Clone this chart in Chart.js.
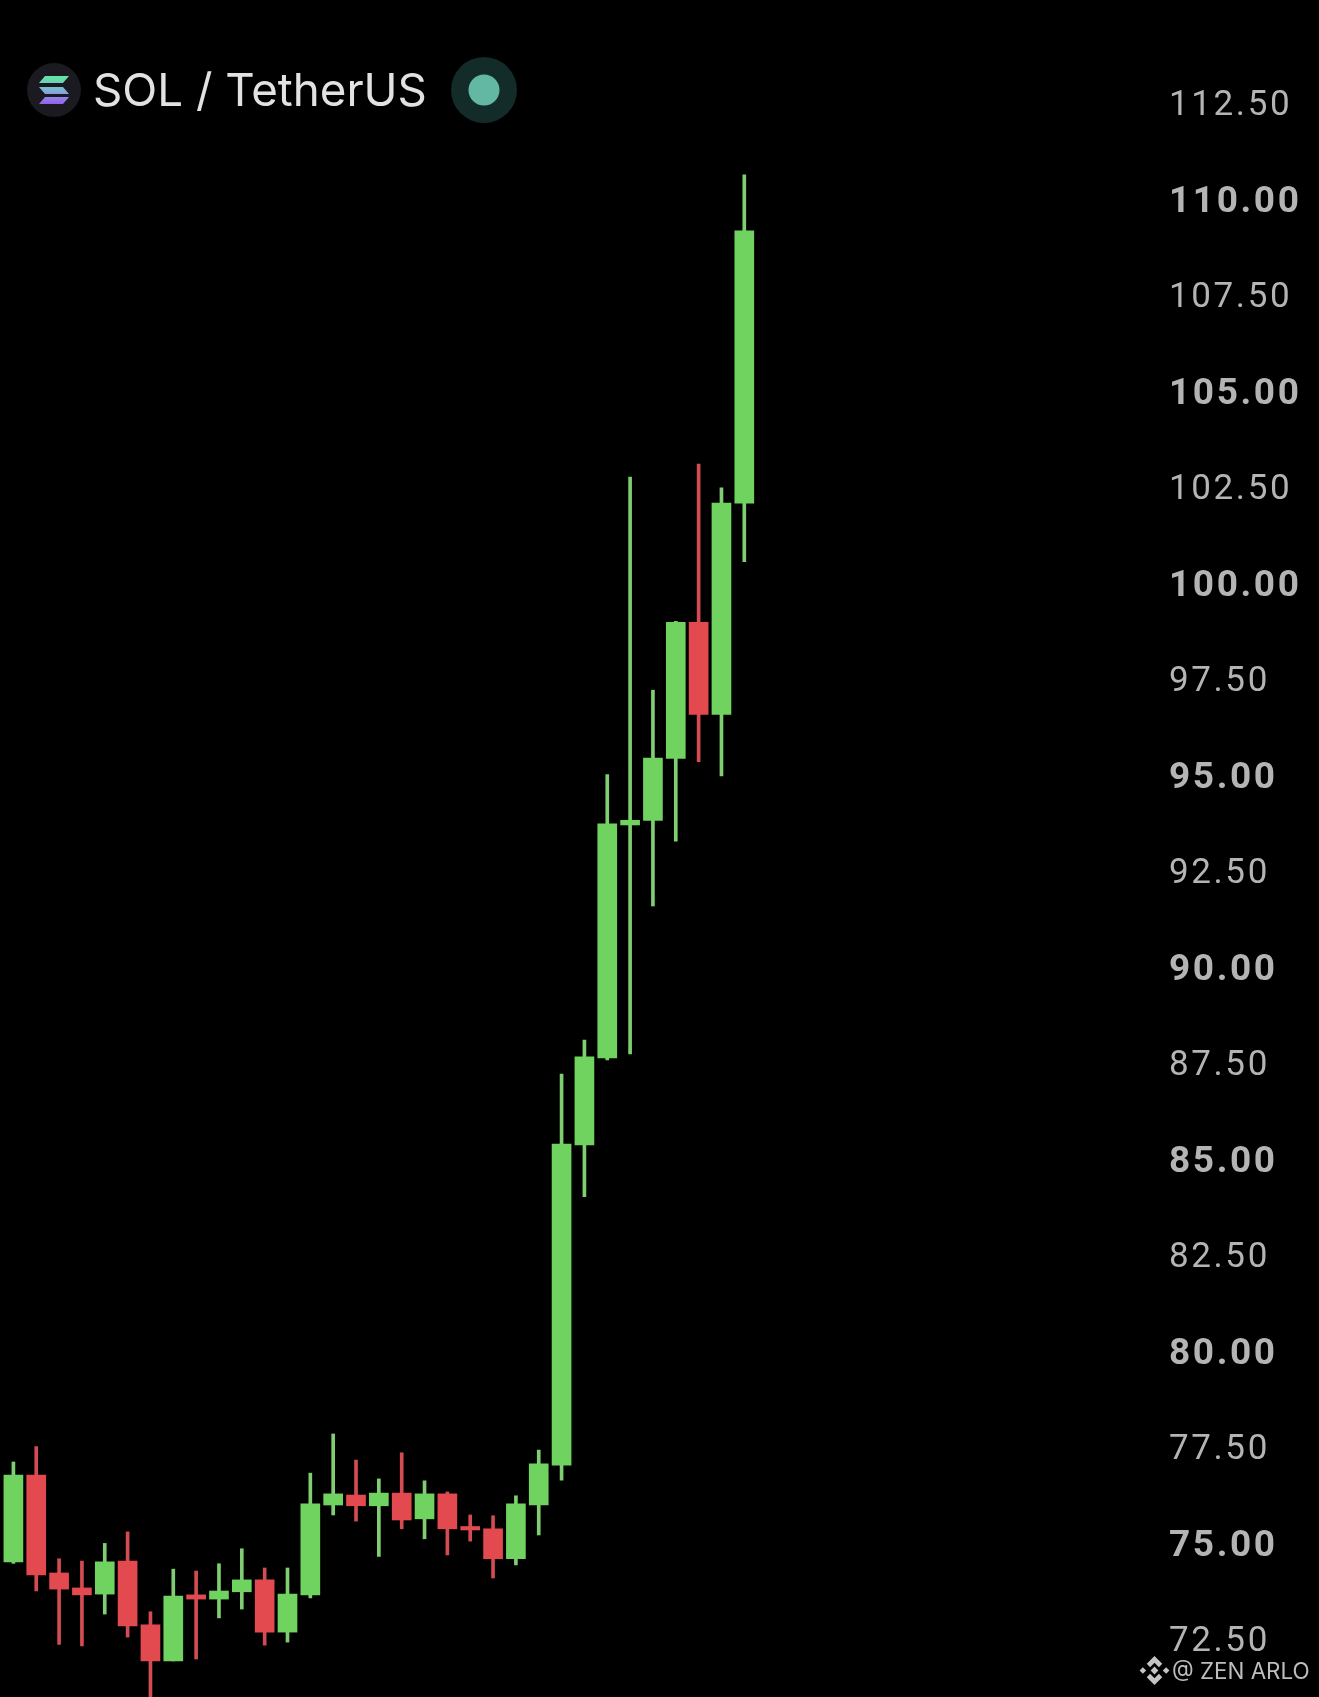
<!DOCTYPE html>
<html>
<head>
<meta charset="utf-8">
<script src="https://cdn.jsdelivr.net/npm/chart.js@4"></script>
<style>
html,body{margin:0;padding:0;background:#000;width:1319px;height:1697px;overflow:hidden}
#wrap{position:relative;width:1319px;height:1697px}
#wrap canvas{position:absolute;left:0;top:0}
#title{position:absolute;left:93px;top:60px;font:400 45.7px Inter,sans-serif;line-height:60px;color:#e2e2e2;white-space:nowrap}
#logo{position:absolute;left:27px;top:63px}
#badge{position:absolute;left:451px;top:57px}
#mark{position:absolute;left:1172px;top:1656px;font:400 22.4px Inter,sans-serif;line-height:30px;color:#bdbdbd;white-space:nowrap}
#bin{position:absolute;left:1139px;top:1655px}
</style>
</head>
<body>
<div id="wrap">
<canvas id="c" width="1319" height="1697"></canvas>
<svg id="logo" width="54" height="54" viewBox="0 0 54 54">
<defs><linearGradient id="g" x1="0" y1="0" x2="0" y2="1"><stop offset="0" stop-color="#5fe8a0"/><stop offset=".5" stop-color="#7fb4d8"/><stop offset="1" stop-color="#9a5cf0"/></linearGradient></defs>
<circle cx="27" cy="27" r="27" fill="#1a1a20"/>
<path fill="url(#g)" d="M18 13H42L36 20H12ZM12 24H36L42 31H18ZM18 34H42L36 41H12Z"/>
</svg>
<svg id="badge" width="66" height="66" viewBox="0 0 66 66"><circle cx="33" cy="33" r="33" fill="#132c29"/><circle cx="33" cy="33" r="15.5" fill="#63b8a4"/></svg>
<div id="title">SOL / TetherUS</div>
<svg id="bin" width="31" height="31" viewBox="0 0 28 28" fill="#c4c4c4">
<path d="M14 1l7 7-3 3-4-4-4 4-3-3zM14 27l-7-7 3-3 4 4 4-4 3 3zM3.500 11l3 3-3 3-3-3zM24.500 11l3 3-3 3-3-3zM14 10.500l3.500 3.500-3.500 3.500L10.500 14z"/>
</svg>
<div id="mark">@ ZEN ARLO</div>
</div>
<script>
const candles = ["1","2","3","4","5","6","7","8","9","10","11","12","13","14","15","16","17","18","19","20","21","22","23","24","25","26","27","28","29","30","31","32","33"];
const opens  = [74.50,76.76,74.21,73.82,73.66,74.52,72.86,71.92,73.64,73.53,73.72,74.03,72.67,73.64,75.98,76.24,75.96,76.29,75.62,76.27,75.42,75.36,74.58,75.98,77.02,85.36,87.62,93.69,93.81,95.42,98.97,96.57,102.07];
const closes = [76.76,74.16,73.79,73.64,74.50,72.83,71.92,73.61,73.53,73.74,74.03,72.67,73.66,76.01,76.27,75.96,76.29,75.59,76.27,75.36,75.33,74.58,76.01,77.05,85.38,87.65,93.72,93.81,95.43,98.97,96.57,102.07,109.16];
const highs  = [77.10,77.50,74.58,74.52,74.98,75.28,73.20,74.31,74.26,74.45,74.84,74.34,74.34,76.81,77.83,77.15,76.66,77.34,76.61,76.32,75.72,75.70,76.22,77.41,87.20,88.09,95.00,102.75,97.20,98.99,103.09,102.47,110.62];
const lows   = [74.46,73.74,72.35,72.31,73.14,72.54,70.90,71.92,71.97,73.04,73.27,72.33,72.41,73.56,75.72,75.56,74.64,75.36,75.10,74.68,75.04,74.08,74.42,75.20,76.63,84.01,87.57,87.73,91.58,93.27,95.34,94.97,100.55];
const tickLabels = ["112.50","110.00","107.50","105.00","102.50","100.00","97.50","95.00","92.50","90.00","87.50","85.00","82.50","80.00","77.50","75.00","72.50"];

const UP="#70d25f", DOWN="#e24a50", UPW="#7fce72", DOWNW="#d24c52";
const isUp = i => closes[i] >= opens[i];
const wicks  = candles.map((c,i)=>({x:i, y:[lows[i],highs[i]]}));
const bodies = candles.map((c,i)=>({x:i, y:[opens[i],closes[i]]}));

const spacing = {id:'spacing',beforeDraw(ch){ch.ctx.letterSpacing='2.6px';}};

new Chart(document.getElementById('c').getContext('2d'),{
  type:'bar',
  plugins:[spacing],
  data:{datasets:[
    {label:'Wick',data:wicks,grouped:false,order:2,barThickness:3,backgroundColor:candles.map((c,i)=>isUp(i)?UPW:DOWNW)},
    {label:'Body',data:bodies,grouped:false,order:1,barThickness:19,backgroundColor:candles.map((c,i)=>isUp(i)?UP:DOWN)}
  ]},
  options:{
    responsive:false,devicePixelRatio:1,animation:false,
    layout:{padding:0},
    plugins:{legend:{display:false},tooltip:{enabled:false}},
    scales:{
      x:{type:'linear',display:false,offset:false,min:-0.587,max:50.2,grid:{display:false}},
      y:{type:'linear',position:'right',min:70.98,max:115.174,
        border:{display:false},
        grid:{display:false,drawTicks:false},
        afterFit(s){s.width=159;s.paddingTop=0;s.paddingBottom=0;},
        afterBuildTicks(s){s.ticks=tickLabels.map(t=>({value:Number(t)}));},
        ticks:{
          padding:9,labelOffset:4,autoSkip:false,color:'#b4b4b4',
          callback:v=>Number(v).toFixed(2),
          font:ctx=>{const bold=ctx.tick&&ctx.tick.value%5===0;return {family:'Roboto',size:bold?37:35,weight:bold?'700':'400'};}
        }
      }
    }
  }
});
</script>
</body>
</html>
